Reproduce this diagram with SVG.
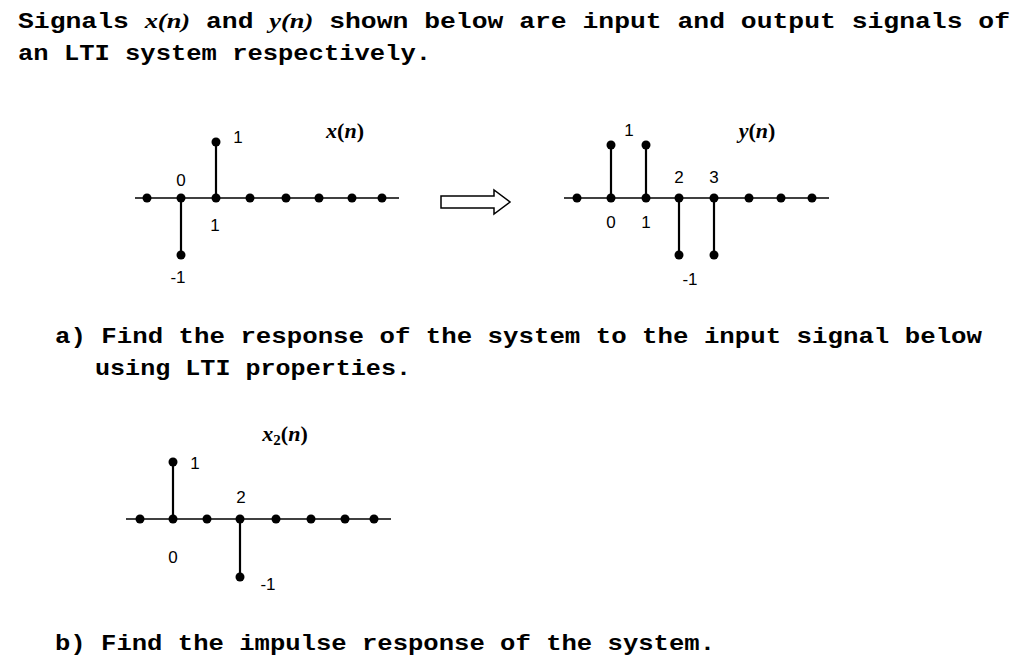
<svg xmlns="http://www.w3.org/2000/svg" width="1024" height="669" viewBox="0 0 1024 669">
<style>
.t{font-family:"Liberation Mono",monospace;font-weight:bold;font-size:22px;fill:#000}
.m{font-family:"Liberation Serif",serif;font-style:italic;font-weight:bold}
.l{font-family:"Liberation Sans",sans-serif;font-size:17px;fill:#000;text-anchor:middle}
.ax{stroke:#000;stroke-width:1.3}
.st{stroke:#000;stroke-width:2.2}
circle{fill:#000}
</style>
<rect width="1024" height="669" fill="#fff"/>
<g id="text">
<text class="t" x="18" y="28" textLength="992" lengthAdjust="spacingAndGlyphs">Signals <tspan class="m">x</tspan><tspan class="m" font-style="normal">(</tspan><tspan class="m">n</tspan><tspan class="m" font-style="normal">)</tspan> and <tspan class="m">y</tspan><tspan class="m" font-style="normal">(</tspan><tspan class="m">n</tspan><tspan class="m" font-style="normal">)</tspan> shown below are input and output signals of</text>
<text class="t" x="18" y="60" textLength="413" lengthAdjust="spacingAndGlyphs">an LTI system respectively.</text>
<text class="t" x="55" y="343" textLength="927" lengthAdjust="spacingAndGlyphs">a) Find the response of the system to the input signal below</text>
<text class="t" x="95" y="375" textLength="316" lengthAdjust="spacingAndGlyphs">using LTI properties.</text>
<text class="t" x="55" y="650" textLength="660" lengthAdjust="spacingAndGlyphs">b) Find the impulse response of the system.</text>
</g>
<g id="xn">
<line class="ax" x1="135" y1="198" x2="399" y2="198"/>
<line class="st" x1="216" y1="198" x2="216" y2="142"/>
<line class="st" x1="181" y1="198" x2="181" y2="255"/>
<circle cx="147" cy="198" r="4.5"/><circle cx="181" cy="198" r="4.5"/><circle cx="216" cy="198" r="4.5"/><circle cx="250" cy="198" r="4.5"/><circle cx="286" cy="198" r="4.5"/><circle cx="319" cy="198" r="4.5"/><circle cx="352" cy="198" r="4.5"/><circle cx="382" cy="198" r="4.5"/>
<circle cx="216" cy="142" r="4.5"/><circle cx="181" cy="255" r="4.5"/>
<text class="l" x="238" y="143">1</text><text class="l" x="181" y="186">0</text><text class="l" x="215" y="231">1</text><text class="l" x="178" y="283">-1</text>
<text x="345" y="138" font-family="Liberation Serif,serif" font-weight="bold" font-size="22" text-anchor="middle"><tspan font-style="italic">x</tspan>(<tspan font-style="italic">n</tspan>)</text>
</g>
<g id="arrow">
<polygon points="441,196 494,196 494,190 510,202 494,214 494,208 441,208" fill="#fff" stroke="#000" stroke-width="1.5"/>
</g>
<g id="yn">
<line class="ax" x1="564" y1="198" x2="829" y2="198"/>
<line class="st" x1="611" y1="198" x2="611" y2="145"/>
<line class="st" x1="646" y1="198" x2="646" y2="145"/>
<line class="st" x1="679" y1="198" x2="679" y2="255"/>
<line class="st" x1="714" y1="198" x2="714" y2="255"/>
<circle cx="577" cy="198" r="4.5"/><circle cx="611" cy="198" r="4.5"/><circle cx="646" cy="198" r="4.5"/><circle cx="679" cy="198" r="4.5"/><circle cx="714" cy="198" r="4.5"/><circle cx="749" cy="198" r="4.5"/><circle cx="781" cy="198" r="4.5"/><circle cx="812" cy="198" r="4.5"/>
<circle cx="611" cy="145" r="4.5"/><circle cx="646" cy="145" r="4.5"/><circle cx="679" cy="255" r="4.5"/><circle cx="714" cy="255" r="4.5"/>
<text class="l" x="629" y="136">1</text><text class="l" x="679" y="183">2</text><text class="l" x="714" y="183">3</text><text class="l" x="611" y="228">0</text><text class="l" x="646" y="228">1</text><text class="l" x="690" y="285">-1</text>
<text x="757" y="138" font-family="Liberation Serif,serif" font-weight="bold" font-size="22" text-anchor="middle"><tspan font-style="italic">y</tspan>(<tspan font-style="italic">n</tspan>)</text>
</g>
<g id="x2n">
<line class="ax" x1="126" y1="519" x2="391" y2="519"/>
<line class="st" x1="173" y1="519" x2="173" y2="462"/>
<line class="st" x1="240" y1="519" x2="240" y2="577"/>
<circle cx="140" cy="519" r="4.5"/><circle cx="173" cy="519" r="4.5"/><circle cx="207" cy="519" r="4.5"/><circle cx="240" cy="519" r="4.5"/><circle cx="276" cy="519" r="4.5"/><circle cx="311" cy="519" r="4.5"/><circle cx="345" cy="519" r="4.5"/><circle cx="374" cy="519" r="4.5"/>
<circle cx="173" cy="462" r="4.5"/><circle cx="240" cy="577" r="4.5"/>
<text class="l" x="195" y="469">1</text><text class="l" x="241" y="503">2</text><text class="l" x="173" y="563">0</text><text class="l" x="268" y="590">-1</text>
<text x="285" y="441" font-family="Liberation Serif,serif" font-weight="bold" font-size="22" text-anchor="middle"><tspan font-style="italic">x</tspan><tspan font-size="15" dy="4">2</tspan><tspan dy="-4">(</tspan><tspan font-style="italic">n</tspan>)</text>
</g>
</svg>
